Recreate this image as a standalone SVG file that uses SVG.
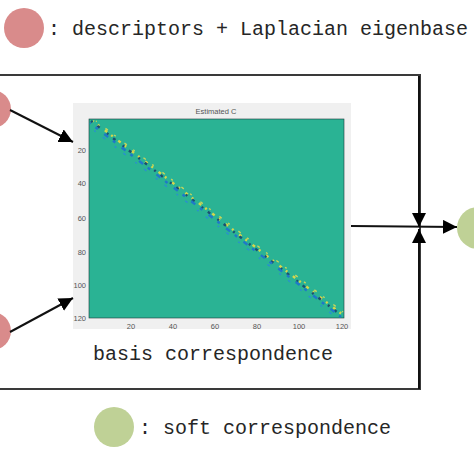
<svg xmlns="http://www.w3.org/2000/svg" width="474" height="474" viewBox="0 0 474 474">
<style>
.lbl{font-family:"Liberation Mono","DejaVu Sans Mono",monospace;font-size:20px;fill:#262626}
.tick{font-family:"Liberation Sans",Arial,sans-serif;font-size:7.5px;fill:#555}
.conn{stroke:#111;stroke-width:2;fill:none}
.frame{stroke:#3a3a3a;stroke-width:2;fill:none}
.red{fill:#d98b8b}
.green{fill:#bfd196}
</style>
<defs>
<marker id="ah" viewBox="0 0 10 10" refX="10" refY="5" markerWidth="7" markerHeight="7" markerUnits="strokeWidth" orient="auto">
<path d="M0,0 L10,5 L0,10 z" fill="#000"/>
</marker>
</defs>
<rect width="474" height="474" fill="#fff"/>
<g id="legend-top">
<circle class="red" cx="24" cy="28" r="20"/>
<text class="lbl" x="48" y="35">: descriptors + Laplacian eigenbase</text>
</g>
<rect class="frame" x="-10" y="75" width="430" height="314"/>
<g id="input-top"><circle class="red" cx="-8" cy="109" r="19"/></g>
<g id="input-bottom"><circle class="red" cx="-8" cy="331" r="19"/></g>
<g id="output"><circle class="green" cx="478" cy="228" r="21"/></g>
<g id="matrix">
<rect x="73" y="103" width="278" height="226" fill="#f0f0f0"/>
<text x="216" y="114" text-anchor="middle" class="tick" font-size="8">Estimated C</text>
<rect x="89" y="119" width="255" height="199" fill="#2ab394" stroke="#1d3a3a" stroke-width="0.6"/>
<g stroke-width="2.4" fill="none">
<line x1="93" y1="121" x2="343" y2="315" stroke="#d6d64c" stroke-dasharray="3 5 2 7" stroke-dashoffset="2"/>
<line x1="91" y1="121" x2="342" y2="316" stroke="#1b4f70" stroke-dasharray="2 6 3 9"/>
<line x1="90" y1="123" x2="341" y2="317" stroke="#1f78c8" stroke-dasharray="5 6 3 8" stroke-dashoffset="4"/>
<line x1="96" y1="121" x2="343" y2="312" stroke="#c6d55c" stroke-width="1.4" stroke-dasharray="2 11 3 8" stroke-dashoffset="1"/>
<line x1="87" y1="125" x2="337" y2="318" stroke="#2a8fd0" stroke-width="1.4" stroke-dasharray="3 12 2 9" stroke-dashoffset="6"/>
</g>
<g class="tick" text-anchor="end">
<text x="86" y="152.5">20</text>
<text x="86" y="185.5">40</text>
<text x="86" y="220.5">60</text>
<text x="86" y="254.5">80</text>
<text x="86" y="287.5">100</text>
<text x="86" y="320.5">120</text>
</g>
<g class="tick" text-anchor="middle">
<text x="131" y="329">20</text>
<text x="173" y="329">40</text>
<text x="215" y="329">60</text>
<text x="257" y="329">80</text>
<text x="299" y="329">100</text>
<text x="342" y="329">120</text>
</g>
<text class="lbl" x="213" y="360" text-anchor="middle">basis correspondence</text>
</g>
<g id="connectors">
<line class="conn" x1="10" y1="110" x2="73" y2="142" marker-end="url(#ah)"/>
<line class="conn" x1="10" y1="332" x2="73" y2="298" marker-end="url(#ah)"/>
<line class="conn" x1="351" y1="226" x2="457" y2="227" marker-end="url(#ah)"/>
<line class="conn" x1="419" y1="76" x2="419" y2="227" marker-end="url(#ah)"/>
<line class="conn" x1="419" y1="389" x2="419" y2="229" marker-end="url(#ah)"/>
</g>
<g id="legend-bottom">
<circle class="green" cx="114" cy="427" r="20"/>
<text class="lbl" x="139" y="434">: soft correspondence</text>
</g>
</svg>
